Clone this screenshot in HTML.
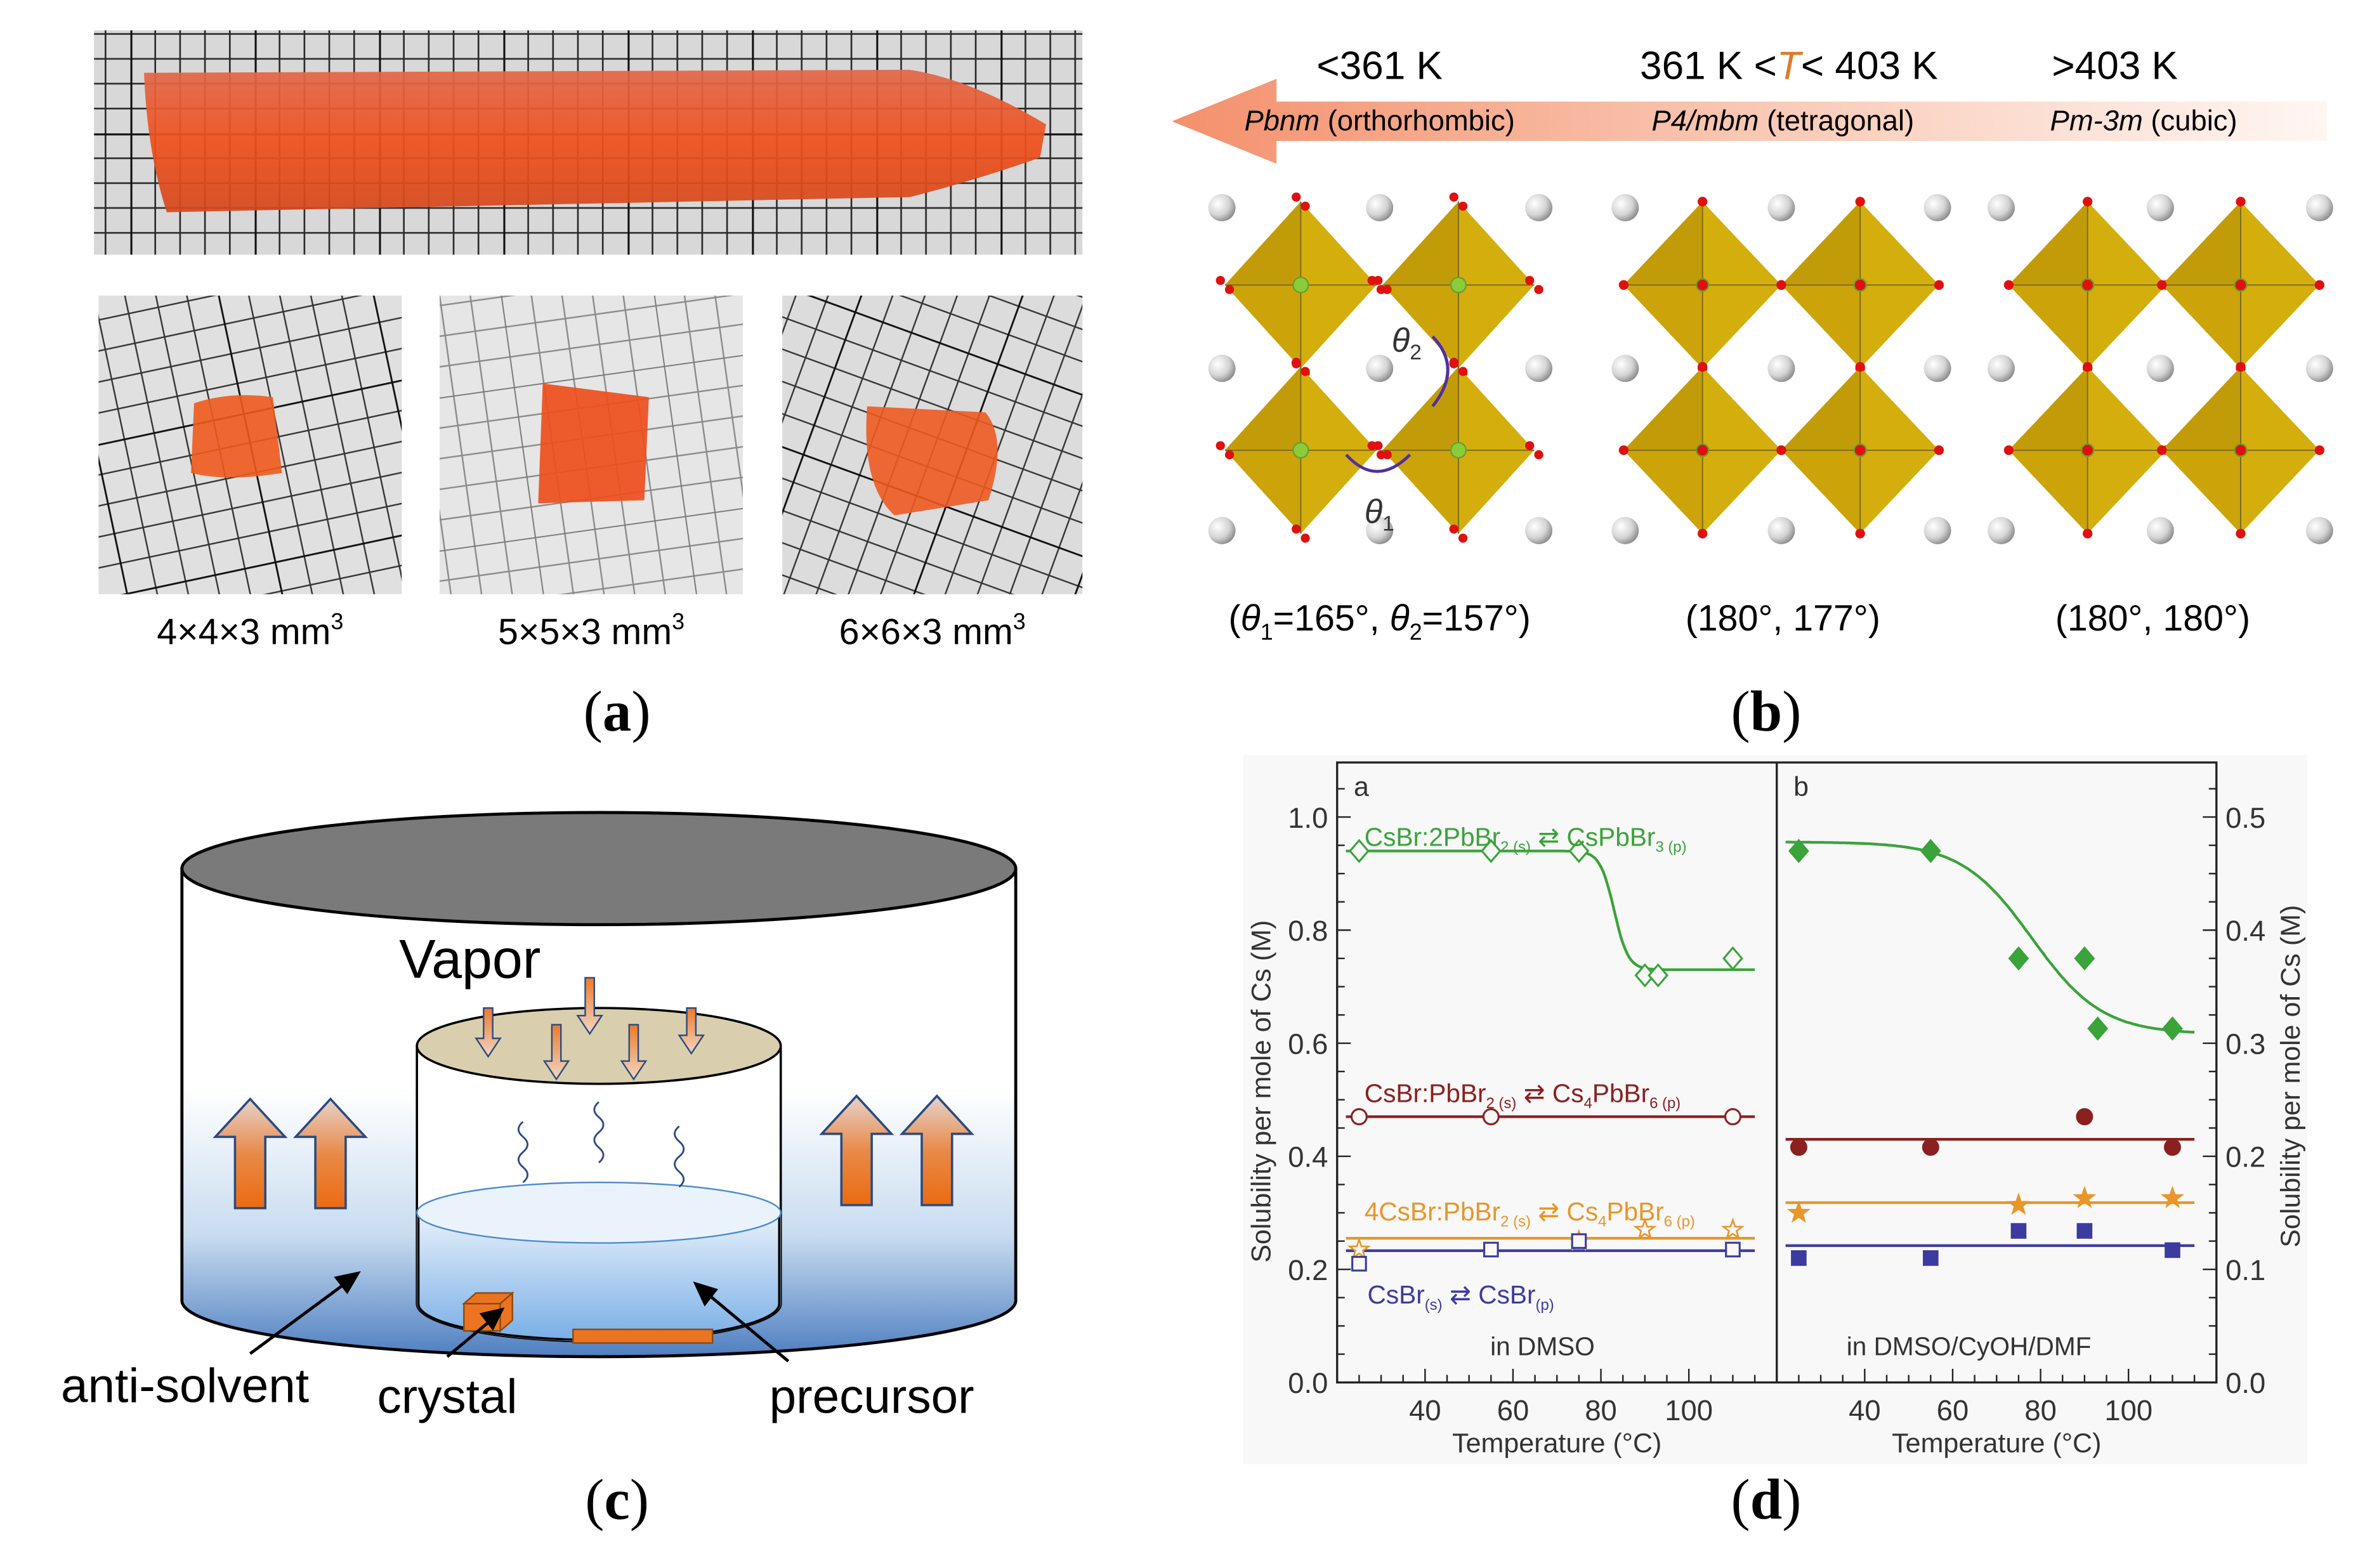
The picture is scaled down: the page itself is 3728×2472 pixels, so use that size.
<!DOCTYPE html>
<html><head><meta charset="utf-8"><style>
html,body{margin:0;padding:0;background:#fff}
svg{display:block}
text{font-family:"Liberation Sans",sans-serif}
.pl{font-family:"Liberation Serif",serif;font-size:38px}
</style></head><body>
<svg id="fig" width="3728" height="2472" viewBox="0 0 1560 1034.4" xmlns="http://www.w3.org/2000/svg">
<defs>
<pattern id="gridA" width="82" height="82" patternUnits="userSpaceOnUse" x="4" y="6">
<rect width="82" height="82" fill="#d8d8d8"/>
<path d="M16.4 0V82M32.8 0V82M49.2 0V82M65.6 0V82M0 16.4H82M0 32.8H82M0 49.2H82M0 65.6H82" stroke="#2a2a2a" stroke-width="1.1"/>
<path d="M0 0V82M0 0H82" stroke="#111" stroke-width="2.6"/>
</pattern>
<pattern id="gridB" width="100" height="100" patternUnits="userSpaceOnUse" patternTransform="rotate(-12)">
<rect width="100" height="100" fill="#e0e0e0"/>
<path d="M20 0V100M40 0V100M60 0V100M80 0V100M0 20H100M0 40H100M0 60H100M0 80H100" stroke="#333" stroke-width="1"/>
<path d="M0 0V100M0 0H100" stroke="#111" stroke-width="2.4"/>
</pattern>
<pattern id="gridC" width="100" height="100" patternUnits="userSpaceOnUse" patternTransform="rotate(-8)">
<rect width="100" height="100" fill="#e6e6e6"/>
<path d="M20 0V100M40 0V100M60 0V100M80 0V100M0 20H100M0 40H100M0 60H100M0 80H100" stroke="#8a8a8a" stroke-width="1"/>
<path d="M0 0V100M0 0H100" stroke="#777" stroke-width="1.6"/>
</pattern>
<pattern id="gridD" width="100" height="100" patternUnits="userSpaceOnUse" patternTransform="rotate(20)">
<rect width="100" height="100" fill="#dcdcdc"/>
<path d="M20 0V100M40 0V100M60 0V100M80 0V100M0 20H100M0 40H100M0 60H100M0 80H100" stroke="#333" stroke-width="1"/>
<path d="M0 0V100M0 0H100" stroke="#111" stroke-width="2.4"/>
</pattern>
<linearGradient id="rod" x1="0" y1="0" x2="0" y2="1"><stop offset="0" stop-color="#e2684a"/><stop offset="0.5" stop-color="#f0501c"/><stop offset="1" stop-color="#d6481c"/></linearGradient>
<linearGradient id="arrowB" x1="0" y1="0" x2="1" y2="0"><stop offset="0" stop-color="#f4906c"/><stop offset="0.5" stop-color="#f9c8b4"/><stop offset="1" stop-color="#fff6f2"/></linearGradient>
<radialGradient id="sph" cx="0.35" cy="0.35" r="0.7"><stop offset="0" stop-color="#fff"/><stop offset="0.6" stop-color="#d4d4d4"/><stop offset="1" stop-color="#8a8a8a"/></radialGradient>
<linearGradient id="tank" x1="0" y1="0" x2="0" y2="1"><stop offset="0" stop-color="#fff"/><stop offset="0.45" stop-color="#fff"/><stop offset="0.75" stop-color="#c8dcf0"/><stop offset="1" stop-color="#4f7fc0"/></linearGradient>
<linearGradient id="liq" x1="0" y1="0" x2="0" y2="1"><stop offset="0" stop-color="#e8f1fb"/><stop offset="1" stop-color="#78aee6"/></linearGradient>
<linearGradient id="upA" x1="0" y1="0" x2="0" y2="1"><stop offset="0" stop-color="#e6d3cc"/><stop offset="0.5" stop-color="#e88a48"/><stop offset="1" stop-color="#ec6a10"/></linearGradient>
<linearGradient id="dnA" x1="0" y1="0" x2="0" y2="1"><stop offset="0" stop-color="#ec7a2a"/><stop offset="1" stop-color="#f1d6c4"/></linearGradient>
</defs>

<!-- Panel a -->
<g>
<rect x="62" y="20" width="652" height="148" fill="url(#gridA)"/>
<path d="M95 48 L600 46 Q640 52 690 82 L686 104 Q640 120 600 130 L110 140 Q97 100 95 48Z" fill="url(#rod)" opacity="0.93"/>
<rect x="65" y="195" width="200" height="197" fill="url(#gridB)"/>
<path d="M128 266 Q152 258 180 262 L186 312 Q150 318 126 312Z" fill="#ef5a1e" opacity="0.9"/>
<rect x="290" y="195" width="200" height="197" fill="url(#gridC)"/>
<path d="M358 253 L428 262 L425 330 L355 332Z" fill="#ee4f1c" opacity="0.92"/>
<rect x="516" y="195" width="198" height="197" fill="url(#gridD)"/>
<path d="M572 268 L650 272 Q665 290 652 330 L590 340 Q568 320 572 268Z" fill="#ee5a22" opacity="0.9"/>
<text x="165" y="425" font-size="24" text-anchor="middle">4×4×3 mm<tspan font-size="15" dy="-10">3</tspan></text>
<text x="390" y="425" font-size="24" text-anchor="middle">5×5×3 mm<tspan font-size="15" dy="-10">3</tspan></text>
<text x="615" y="425" font-size="24" text-anchor="middle">6×6×3 mm<tspan font-size="15" dy="-10">3</tspan></text>
<text class="pl" x="407" y="482" text-anchor="middle">(<tspan font-weight="bold">a</tspan>)</text>
</g>

<!-- Panel b -->
<g id="pb">
<path d="M773 80 L842 52 L842 67 L1535 67 L1535 93 L842 93 L842 108Z" fill="url(#arrowB)"/>
<text x="910" y="52" font-size="26" text-anchor="middle">&lt;361 K</text>
<text x="1180" y="52" font-size="26" text-anchor="middle">361 K &lt;<tspan fill="#e07a2a" font-style="italic">T</tspan>&lt; 403 K</text>
<text x="1395" y="52" font-size="26" text-anchor="middle">&gt;403 K</text>
<text x="910" y="86" font-size="19" text-anchor="middle"><tspan font-style="italic">Pbnm</tspan> (orthorhombic)</text>
<text x="1176" y="86" font-size="19" text-anchor="middle"><tspan font-style="italic">P4/mbm</tspan> (tetragonal)</text>
<text x="1414" y="86" font-size="19" text-anchor="middle"><tspan font-style="italic">Pm-3m</tspan> (cubic)</text>
<text x="910" y="416" font-size="24" text-anchor="middle">(<tspan font-style="italic">θ</tspan><tspan font-size="15" dy="6">1</tspan><tspan dy="-6">=165°, </tspan><tspan font-style="italic">θ</tspan><tspan font-size="15" dy="6">2</tspan><tspan dy="-6">=157°)</tspan></text>
<text x="1176" y="416" font-size="24" text-anchor="middle">(180°, 177°)</text>
<text x="1420" y="416" font-size="24" text-anchor="middle">(180°, 180°)</text>
<text class="pl" x="1165" y="482" text-anchor="middle">(<tspan font-weight="bold">b</tspan>)</text>
</g>

<!-- Panel c -->
<g>
<path d="M120 573 L120 858 A275 37 0 0 0 670 858 L670 573Z" fill="url(#tank)" stroke="#000" stroke-width="2"/>
<ellipse cx="395" cy="573" rx="275" ry="37" fill="#7a7a7a" stroke="#000" stroke-width="2"/>
<path d="M275 690 L275 860 A120 25 0 0 0 515 860 L515 690Z" fill="#fff" stroke="#000" stroke-width="1.5"/>
<path d="M275 800 A120 20 0 0 0 515 800 L515 860 A120 25 0 0 1 275 860Z" fill="url(#liq)"/>
<path d="M276 800 L276 860 A119 24 0 0 0 514 860 L514 800" fill="none" stroke="#000" stroke-width="1.5"/>
<ellipse cx="395" cy="800" rx="120" ry="20" fill="#eaf3fc" stroke="#4a8ad0" stroke-width="1"/>
<ellipse cx="395" cy="690" rx="120" ry="25" fill="#d9cfae" stroke="#000" stroke-width="1.5"/>
<g fill="url(#upA)" stroke="#2b4a80" stroke-width="1.5">
<path d="M155 797 V750 H142 L165 725 L188 750 H175 V797Z"/>
<path d="M208 797 V750 H195 L218 725 L241 750 H228 V797Z"/>
<path d="M555 795 V748 H542 L565 723 L588 748 H575 V795Z"/>
<path d="M608 795 V748 H595 L618 723 L641 748 H628 V795Z"/>
</g>
<g fill="url(#dnA)" stroke="#2b4a80" stroke-width="1">
<path d="M319 665 V685 H314 L322 697 L330 685 H325 V665Z"/>
<path d="M386 645 V670 H381 L389 682 L397 670 H392 V645Z"/>
<path d="M453 665 V683 H448 L456 695 L464 683 H459 V665Z"/>
<path d="M364 676 V700 H359 L367 712 L375 700 H370 V676Z"/>
<path d="M415 676 V700 H410 L418 712 L426 700 H421 V676Z"/>
</g>
<g fill="none" stroke="#2b4a80" stroke-width="1.2">
<path d="M345 740 q-6 5 0 10 q6 5 0 10 q-6 5 0 10 q6 5 0 10"/>
<path d="M395 727 q-6 5 0 10 q6 5 0 10 q-6 5 0 10 q6 5 0 10"/>
<path d="M448 743 q-6 5 0 10 q6 5 0 10 q-6 5 0 10 q6 5 0 10"/>
</g>
<g fill="#ec7420" stroke="#8a4a10" stroke-width="1">
<path d="M306 860 L330 860 L330 878 L306 878Z"/><path d="M306 860 L314 853 L338 853 L330 860Z"/><path d="M330 860 L338 853 L338 871 L330 878Z"/>
<rect x="378" y="877" width="92" height="9"/>
</g>
<text x="310" y="645" font-size="36" text-anchor="middle">Vapor</text>
<g stroke="#000" stroke-width="2" fill="#000">
<line x1="165" y1="893" x2="230" y2="845"/><path d="M236 840 l-14 3 l7 9z"/>
<line x1="295" y1="895" x2="325" y2="870"/><path d="M331 864 l-13 3 l7 9z"/>
<line x1="520" y1="898" x2="466" y2="853"/><path d="M459 847 l6 13 l7-9z"/>
</g>
<text x="122" y="925" font-size="32" text-anchor="middle">anti-solvent</text>
<text x="295" y="932" font-size="32" text-anchor="middle">crystal</text>
<text x="575" y="932" font-size="32" text-anchor="middle">precursor</text>
<text class="pl" x="407" y="1002" text-anchor="middle">(<tspan font-weight="bold">c</tspan>)</text>
</g>

<!-- Panel d -->
<g id="pd">
<rect x="820" y="498" width="702" height="468" fill="#f8f8f8"/>
<text class="pl" x="1165" y="1002" text-anchor="middle">(<tspan font-weight="bold">d</tspan>)</text>
</g>
</svg>
<script>
// ---- Chart data (panel d) ----
const temps = [25, 55, 75, 90, 93, 110];
const leftGreenX = [25, 55, 75, 90, 93, 110];
const leftGreenY = [0.94, 0.94, 0.94, 0.72, 0.72, 0.75];
const leftBrownX = [25, 55, 110];
const leftBrownY = [0.47, 0.47, 0.47];
const leftOrangeX = [25, 75, 90, 110];
const leftOrangeY = [0.235, 0.25, 0.27, 0.27];
const leftBlueX = [25, 55, 75, 110];
const leftBlueY = [0.21, 0.235, 0.25, 0.235];
const leftFitLevels = [0.47, 0.255, 0.233];           // brown, orange, blue
const leftGreenFit = [0.94, 0.73, 83, 1.6];            // top, bottom, mid, width
const rightGreenX = [25, 55, 75, 90, 93, 110];
const rightGreenY = [0.47, 0.47, 0.375, 0.375, 0.313, 0.313];
const rightBrownX = [25, 55, 90, 110];
const rightBrownY = [0.208, 0.208, 0.235, 0.208];
const rightOrangeX = [25, 75, 90, 110];
const rightOrangeY = [0.15, 0.157, 0.163, 0.163];
const rightBlueX = [25, 55, 75, 90, 110];
const rightBlueY = [0.11, 0.11, 0.134, 0.134, 0.117];
const rightFitLevels = [0.215, 0.159, 0.121];
const rightGreenFit = [0.478, 0.308, 78, 8];
const xTicks = [40, 60, 80, 100];
const leftYTicks = ["0.0","0.2","0.4","0.6","0.8","1.0"];
const rightYTicks = ["0.0","0.1","0.2","0.3","0.4","0.5"];

const NS = "http://www.w3.org/2000/svg";
const pd = document.getElementById("pd");
function mk(tag, attrs, parent) {
  const e = document.createElementNS(NS, tag);
  for (const k in attrs) e.setAttribute(k, attrs[k]);
  (parent || pd).appendChild(e);
  return e;
}
const Y0 = 912, Ytop = 503;
const L = {x0: 882, x1: 1172, ymax: 1.0, yPix: 373};
const R = {x0: 1172, x1: 1462, ymax: 0.5, yPix: 373};
function xs(p, t) { return p.x0 + (t - 20) / 100 * (p.x1 - p.x0); }
function ys(p, v) { return Y0 - v / p.ymax * p.yPix; }
const GREEN = "#3aa33a", BROWN = "#8b2020", ORANGE = "#e8962a", BLUE = "#3b3ba0";

let fr = mk("rect", {x: 882, y: Ytop, width: 580, height: Y0 - Ytop, fill: "none", stroke: "#222", "stroke-width": 1.4});


let dv = mk("line", {x1: 1172, y1: Ytop, x2: 1172, y2: Y0, stroke: "#222", "stroke-width": 1.4});



[L, R].forEach((p, pi) => {
  for (let t = 25; t <= 115; t += 5) {
    const major = t % 20 === 0;
    const tk = mk("line", {x1: xs(p, t), x2: xs(p, t), y1: Y0, y2: Y0 - (major ? 9 : 5), stroke: "#222", "stroke-width": 1});
    
    
  }
  xTicks.forEach(t => {
    const tl = mk("text", {x: xs(p, t), y: Y0 + 25, "font-size": 19, "text-anchor": "middle", fill: "#333"});
    tl.textContent = t;
    
    
  });
  const xt = mk("text", {x: (p.x0 + p.x1) / 2, y: 958, "font-size": 18, "text-anchor": "middle", fill: "#333"});
  xt.textContent = "Temperature (°C)";
  
  
});
for (let i = 0; i <= 21; i++) {
  const v = i * 0.05, major = i % 4 === 0;
  const y = ys(L, v);
  if (y < Ytop) break;
  const a = mk("line", {x1: 882, x2: 882 + (major ? 9 : 5), y1: y, y2: y, stroke: "#222"});
  
  
  const b = mk("line", {x1: 1462, x2: 1462 - (major ? 9 : 5), y1: y, y2: y, stroke: "#222"});
  
  
}
leftYTicks.forEach(s => {
  const t = mk("text", {x: 876, y: ys(L, parseFloat(s)) + 7, "font-size": 19, "text-anchor": "end", fill: "#333"});
  t.textContent = s;
  
  
});
rightYTicks.forEach(s => {
  const t = mk("text", {x: 1468, y: ys(R, parseFloat(s)) + 7, "font-size": 19, "text-anchor": "start", fill: "#333"});
  t.textContent = s;
  
  
});
let yl = mk("text", {x: 0, y: 0, "font-size": 18, "text-anchor": "middle", fill: "#333", transform: "translate(838,720) rotate(-90)"});
yl.textContent = "Solubility per mole of Cs (M)";


let yr = mk("text", {x: 0, y: 0, "font-size": 18, "text-anchor": "middle", fill: "#333", transform: "translate(1517,710) rotate(-90)"});
yr.textContent = "Solubility per mole of Cs (M)";



function hline(p, v, c, name) {
  const l = mk("line", {x1: xs(p, 22), x2: xs(p, 115), y1: ys(p, v), y2: ys(p, v), stroke: c, "stroke-width": 1.8});
  
  
}
const fitColors = [BROWN, ORANGE, BLUE];
const fitNames = ["brown", "orange", "blue"];
leftFitLevels.forEach((v, i) => hline(L, v, fitColors[i], "left-fit-" + fitNames[i]));
rightFitLevels.forEach((v, i) => hline(R, v, fitColors[i], "right-fit-" + fitNames[i]));
function sig(p, fit, name) {
  let d = "";
  for (let t = 22; t <= 115; t += 0.5) {
    const v = fit[1] + (fit[0] - fit[1]) / (1 + Math.exp((t - fit[2]) / fit[3]));
    d += (d ? "L" : "M") + xs(p, t).toFixed(1) + " " + ys(p, v).toFixed(1);
  }
  const e = mk("path", {d: d, fill: "none", stroke: GREEN, "stroke-width": 1.8});
  
  
}
sig(L, leftGreenFit, "left-fit-green");
sig(R, rightGreenFit, "right-fit-green");

function marker(shape, x, y, c, filled, name) {
  const fill = filled ? c : "#f8f8f8";
  let e;
  if (shape === "d") e = mk("path", {d: `M${x} ${y-7}L${x+6} ${y}L${x} ${y+7}L${x-6} ${y}Z`, fill: fill, stroke: c, "stroke-width": 1.3});
  else if (shape === "o") e = mk("circle", {cx: x, cy: y, r: 5, fill: fill, stroke: c, "stroke-width": 1.3});
  else if (shape === "s") e = mk("rect", {x: x - 4.5, y: y - 4.5, width: 9, height: 9, fill: fill, stroke: c, "stroke-width": 1.3});
  else {
    let d = "";
    for (let k = 0; k < 10; k++) {
      const r = k % 2 ? 2.6 : 6.5, a = -Math.PI / 2 + k * Math.PI / 5;
      d += (k ? "L" : "M") + (x + r * Math.cos(a)).toFixed(1) + " " + (y + r * Math.sin(a)).toFixed(1);
    }
    e = mk("path", {d: d + "Z", fill: fill, stroke: c, "stroke-width": 1.1});
  }
  
  
}
function series(p, X, Y, shape, c, filled, name) {
  X.forEach((t, i) => marker(shape, xs(p, t), ys(p, Y[i]), c, filled, name));
}
series(L, leftGreenX, leftGreenY, "d", GREEN, false, "left-green-point");
series(L, leftBrownX, leftBrownY, "o", BROWN, false, "left-brown-point");
series(L, leftOrangeX, leftOrangeY, "*", ORANGE, false, "left-orange-point");
series(L, leftBlueX, leftBlueY, "s", BLUE, false, "left-blue-point");
series(R, rightGreenX, rightGreenY, "d", GREEN, true, "right-green-point");
series(R, rightBrownX, rightBrownY, "o", BROWN, true, "right-brown-point");
series(R, rightOrangeX, rightOrangeY, "*", ORANGE, true, "right-orange-point");
series(R, rightBlueX, rightBlueY, "s", BLUE, true, "right-blue-point");

function lab(x, y, html, c, size, name) {
  const t = mk("text", {x: x, y: y, "font-size": size, fill: c});
  t.innerHTML = html;
  
  
}
const sb = (s) => `<tspan font-size="10" dy="4">${s}</tspan><tspan dy="-4"> </tspan>`;
lab(900, 558, `CsBr:2PbBr${sb("2 (s)")}⇄ CsPbBr${sb("3 (p)")}`, GREEN, 17, "label-cspbbr3");
lab(900, 727, `CsBr:PbBr${sb("2 (s)")}⇄ Cs<tspan font-size="10" dy="4">4</tspan><tspan dy="-4">PbBr</tspan>${sb("6 (p)")}`, BROWN, 17, "label-cs4pbbr6");
lab(900, 805, `4CsBr:PbBr${sb("2 (s)")}⇄ Cs<tspan font-size="10" dy="4">4</tspan><tspan dy="-4">PbBr</tspan>${sb("6 (p)")}`, ORANGE, 17, "label-4csbr");
lab(902, 860, `CsBr${sb("(s)")}⇄ CsBr${sb("(p)")}`, BLUE, 17, "label-csbr");
lab(893, 525, "a", "#333", 18, "subplot-label-a");
lab(1183, 525, "b", "#333", 18, "subplot-label-b");
lab(983, 894, "in DMSO", "#333", 17, "label-in-dmso");
lab(1218, 894, "in DMSO/CyOH/DMF", "#333", 17, "label-in-mixed-solvent");

// ---- Panel b crystal structures ----
const pb = document.getElementById("pb");
function pbmk(tag, attrs) { return mk(tag, attrs, pb); }
const sphX = [[806, 910, 1015], [1072, 1175, 1278], [1320, 1425, 1530]];
const sphY = [137, 243, 350];
sphX.forEach(row => row.forEach(x => sphY.forEach(y => {
  const s = pbmk("circle", {cx: x, cy: y, r: 9, fill: "url(#sph)"});
  
  
})));
const octC = [[858, 962], [1123, 1227], [1377, 1478]];
const octY = [188, 297];
octC.forEach((xsArr, si) => xsArr.forEach(cx => octY.forEach(cy => {
  const hw = si === 0 ? 50 : 52, hh = 55;
  const g = pbmk("g", {});
  
  
  mk("path", {d: `M${cx} ${cy-hh}L${cx+hw} ${cy}L${cx} ${cy+hh}L${cx-hw} ${cy}Z`, fill: "#d4ae0c"}, g);
  mk("path", {d: `M${cx} ${cy-hh}L${cx-hw} ${cy}L${cx} ${cy}Z`, fill: "#c29c08"}, g);
  mk("path", {d: `M${cx} ${cy+hh}L${cx-hw} ${cy}L${cx} ${cy}Z`, fill: "#cca40a"}, g);
  mk("path", {d: `M${cx} ${cy-hh}L${cx} ${cy+hh}M${cx-hw} ${cy}L${cx+hw} ${cy}`, stroke: "#7a6a20", "stroke-width": 0.8}, g);
  const pts = [[cx, cy - hh], [cx + hw, cy], [cx, cy + hh], [cx - hw, cy], [cx, cy]];
  pts.forEach((q, k) => {
    if (si === 0 && k < 4) {
      mk("circle", {cx: q[0] - 3, cy: q[1] - 3, r: 3, fill: "#e01010"}, g);
      mk("circle", {cx: q[0] + 3, cy: q[1] + 3, r: 3, fill: "#e01010"}, g);
    } else if (k === 4) {
      mk("circle", {cx: q[0], cy: q[1], r: si === 0 ? 5 : 4, fill: si === 0 ? "#8ccc3a" : "#e01010", stroke: "#6aa030", "stroke-width": 1}, g);
    } else {
      mk("circle", {cx: q[0], cy: q[1], r: 3.2, fill: "#e01010"}, g);
    }
  });
})));
pbmk("path", {d: "M888 300 Q908 322 930 300", fill: "none", stroke: "#5030a0", "stroke-width": 2});
pbmk("path", {d: "M945 222 Q965 243 945 268", fill: "none", stroke: "#5030a0", "stroke-width": 2});
const t1 = pbmk("text", {x: 900, y: 345, "font-size": 22, "font-style": "italic", fill: "#333"});
t1.innerHTML = 'θ<tspan font-size="14" dy="5" font-style="normal">1</tspan>';


const t2 = pbmk("text", {x: 918, y: 232, "font-size": 22, "font-style": "italic", fill: "#333"});
t2.innerHTML = 'θ<tspan font-size="14" dy="5" font-style="normal">2</tspan>';


</script>
</body></html>
